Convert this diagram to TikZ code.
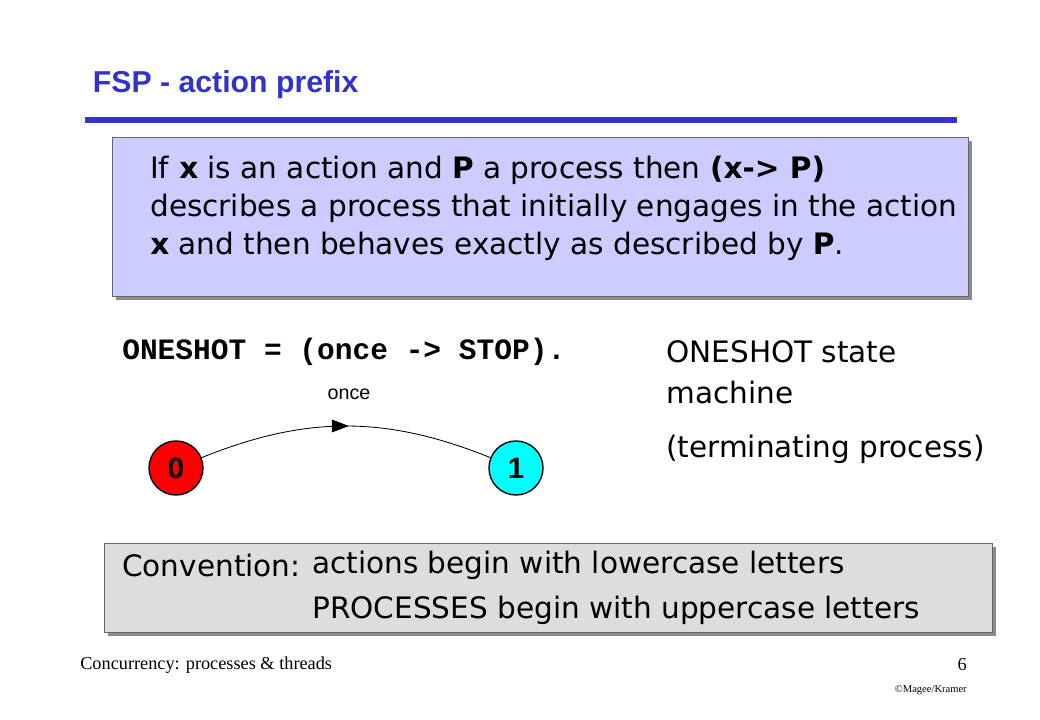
\documentclass[tikz,border=0pt]{standalone}
\usepackage{fontspec}
\setmainfont{Liberation Serif}
\setsansfont{Liberation Sans}
\setmonofont{Liberation Mono}
\newfontfamily\comic{DejaVu Sans}
\usetikzlibrary{shadows,arrows.meta}
\definecolor{titleblue}{RGB}{51,51,204}
\definecolor{boxlav}{RGB}{204,204,255}
\definecolor{boxgrey}{RGB}{221,221,221}
\definecolor{statecyan}{RGB}{0,255,255}
\tikzstyle{panel} = [draw=black!60, line width=0.6pt, drop shadow={shadow xshift=3pt, shadow yshift=-3pt, fill=black!45, opacity=1}]
\tikzstyle{body} = [anchor=west, inner sep=0pt, font=\comic\fontsize{21}{24}\selectfont]
\tikzstyle{state} = [circle, draw=black, line width=1pt, minimum size=1.35cm, inner sep=0pt, font=\sffamily\bfseries\fontsize{21}{24}\selectfont]
\tikzstyle{arrow} = [line width=0.6pt, -{Triangle[length=12pt,width=9pt]}]

\begin{document}
\begin{tikzpicture}[x=0.025cm, y=-0.025cm]
  \useasboundingbox (0,0) rectangle (1040,720);
  \node (title) [anchor=west, text=titleblue, font=\sffamily\bfseries\fontsize{21.5}{24}\selectfont] at (88,85) {FSP - action prefix};
  \draw [titleblue, line width=4pt] (85,120) -- (957,120);

  \filldraw [panel, fill=boxlav] (112,137) rectangle (968,296);
  \node (def1) [body] at (150,170) {If \textbf{x} is an action and \textbf{P} a process then \textbf{(x-> P)}};
  \node (def2) [body] at (150,208) {describes a process that initially engages in the action};
  \node (def3) [body] at (150,246) {\textbf{x} and then behaves exactly as described by \textbf{P}.};

  \node (code) [anchor=west, inner sep=0pt, font=\ttfamily\bfseries\fontsize{21}{24}\selectfont] at (122,352) {ONESHOT = (once -> STOP).};
  \node (side1) [body] at (666,352) {ONESHOT state};
  \node (side2) [body] at (666,392) {machine};
  \node (side3) [body] at (666,449) {(terminating process)};

  \node (s0) [state, fill=red] at (176,468) {0};
  \node (s1) [state, fill=statecyan] at (516,468) {1};
  \draw [line width=0.6pt] (s0) to[bend left=22] coordinate[pos=0.5] (mid) (s1);
  \draw [arrow] ([xshift=-14pt]mid) -- ([xshift=2pt]mid);
  \node (lab) [font=\sffamily\fontsize{14}{16}\selectfont] at (349,394) {once};

  \filldraw [panel, fill=boxgrey] (104,543) rectangle (992,632);
  \node (conv) [body] at (122,565) {Convention:};
  \node (conv1) [body] at (312,565) {actions begin with lowercase letters};
  \node (conv2) [body] at (312,610) {PROCESSES begin with uppercase letters};

  \node (foot) [anchor=west, inner sep=0pt, font=\fontsize{13}{15}\selectfont] at (80,665) {Concurrency: processes \& threads};
  \node (page) [anchor=east, inner sep=0pt, font=\fontsize{13}{15}\selectfont] at (967,665) {6};
  \node (copy) [anchor=east, inner sep=0pt, font=\fontsize{7.5}{9}\selectfont] at (967,690) {©Magee/Kramer};
\end{tikzpicture}
\end{document}
